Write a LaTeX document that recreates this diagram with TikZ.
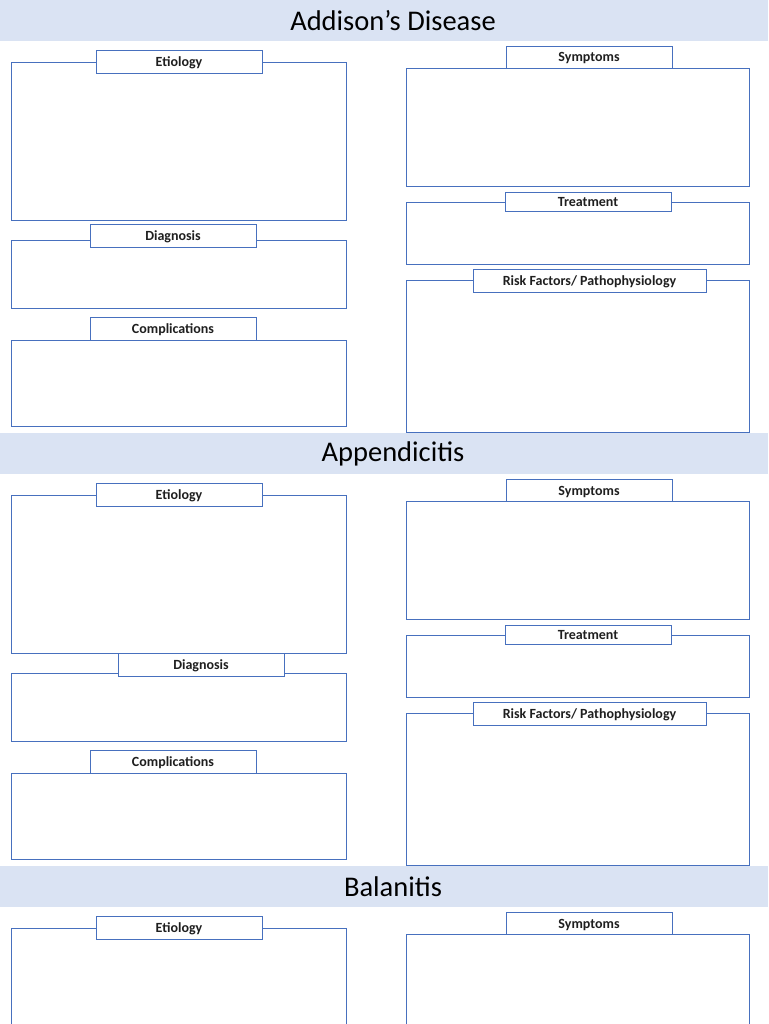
\documentclass[tikz,border=0pt]{standalone}
\usepackage{fontspec}
\setmainfont{Carlito}
\definecolor{bandblue}{HTML}{DAE3F3}
\definecolor{lineblue}{HTML}{4770BE}
\tikzset{
  panel/.style={draw=lineblue, line width=0.9pt, fill=white, inner sep=0pt, outer sep=0pt, anchor=north west},
  tagbox/.style={draw=lineblue, line width=0.9pt, fill=white, inner sep=0pt, outer sep=0pt, anchor=north west,
     font=\fontsize{14}{16}\selectfont\bfseries, text=black!88, text height=11pt, text depth=1pt},
  bandbox/.style={fill=bandblue, draw=none, inner sep=0pt, outer sep=0pt, anchor=north west, minimum width=768pt, minimum height=41pt},
  titletext/.style={font=\fontsize{28.5}{32}\selectfont, text=black, inner sep=0pt}
}
% top part: #1 suffix, #2 y offset, #3 title
\newcommand{\sheettop}[3]{%
\begin{scope}[yshift=-#2pt]
  \node[bandbox] (band#1) at (0,0) {};
  \node[titletext] (title#1) at (393,21) {#3};
  \node[panel, minimum width=335pt, minimum height=158pt] (etio#1) at (11,62) {};
  \node[panel, minimum width=343pt, minimum height=118pt] (symp#1) at (406,68) {};
  \node[tagbox, minimum width=166pt, minimum height=23pt] (etiol#1) at (96,50) {Etiology};
  \node[tagbox, minimum width=166pt, minimum height=22pt] (sympl#1) at (506,46) {Symptoms};
\end{scope}}
% rest: #1 suffix, #2 y offset, #3 diagnosis label x, #4 diagnosis label y
\newcommand{\sheetrest}[4]{%
\begin{scope}[yshift=-#2pt]
  \node[panel, minimum width=335pt, minimum height=68pt] (diag#1) at (11,240) {};
  \node[panel, minimum width=335pt, minimum height=86pt] (comp#1) at (11,340) {};
  \node[panel, minimum width=343pt, minimum height=62pt] (treat#1) at (406,202) {};
  \node[panel, minimum width=343pt, minimum height=152pt] (risk#1) at (406,280) {};
  \node[tagbox, minimum width=166pt, minimum height=23pt] (diagl#1) at (#3,#4) {Diagnosis};
  \node[tagbox, minimum width=166pt, minimum height=23pt] (compl#1) at (90,317) {Complications};
  \node[tagbox, minimum width=166pt, minimum height=19pt] (treatl#1) at (505,192) {Treatment};
  \node[tagbox, minimum width=233pt, minimum height=23pt] (riskl#1) at (473,269) {Risk Factors/ Pathophysiology};
\end{scope}}
\begin{document}
\begin{tikzpicture}[x=1pt,y=-1pt]
  \useasboundingbox (0,0) rectangle (768,1024);
  \clip (0,0) rectangle (768,1024);
  \fill[white] (0,0) rectangle (768,1024);
  \sheettop{a}{0}{Addison’s Disease}
  \sheetrest{a}{0}{90}{224}
  \sheettop{b}{433}{Appendicitis}
  \sheetrest{b}{433}{118}{220}
  \sheettop{c}{866}{Balanitis}
\end{tikzpicture}
\end{document}
